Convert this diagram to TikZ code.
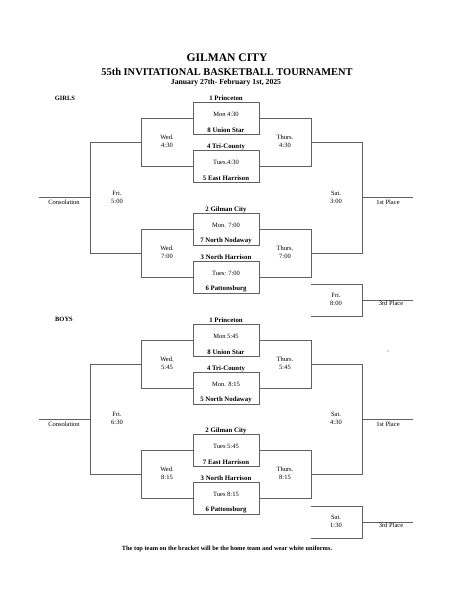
\documentclass[tikz,border=0pt]{standalone}
\usepackage{fontspec}
\setmainfont{Liberation Serif}
\begin{document}
\begin{tikzpicture}[x=1pt,y=-1pt,
  ln/.style={draw=black!62, line width=0.75pt},
  game/.style={ln, rectangle, minimum width=66pt, minimum height=32pt, inner sep=0pt},
  team/.style={font=\fontsize{6.8}{8}\selectfont\bfseries, inner sep=0pt},
  tm/.style={font=\fontsize{6.5}{8}\selectfont, inner sep=0pt},
  day/.style={font=\fontsize{6.5}{8}\selectfont, inner sep=0pt, align=center},
  sect/.style={font=\fontsize{6.5}{8}\selectfont\bfseries, inner sep=0pt}]
\useasboundingbox[fill=white] (0,0) rectangle (463,600);

% titles
\node[font=\fontsize{11.6}{13}\selectfont\bfseries, inner sep=0pt] (t1) at (227,58) {GILMAN CITY};
\node[font=\fontsize{10.4}{12}\selectfont\bfseries, inner sep=0pt] (t2) at (227,72) {55th INVITATIONAL BASKETBALL TOURNAMENT};
\node[font=\fontsize{7.7}{9}\selectfont\bfseries, inner sep=0pt] (t3) at (226,82.5) {January 27th- February 1st, 2025};

% ================= GIRLS =================
\node[sect] (girls) at (65,98) {GIRLS};

\node[game] (g1) at (226,118) {};
\node[tm] (g1t) at (226,114.5) {Mon 4:30};
\node[team] (g1a) at (226,98) {1 Princeton};
\node[team] (g1b) at (226,130) {8 Union Star};

\node[game] (g2) at (226,166) {};
\node[tm] (g2t) at (226,162.5) {Tues.4:30};
\node[team] (g2a) at (226,146.5) {4 Tri-County};
\node[team] (g2b) at (226,178) {5 East Harrison};

\node[game] (g3) at (226,229) {};
\node[tm] (g3t) at (226,225.5) {Mon. 7:00};
\node[team] (g3a) at (226,209.5) {2 Gilman City};
\node[team] (g3b) at (226,241) {7 North Nodaway};

\node[game] (g4) at (226,277) {};
\node[tm] (g4t) at (226,273.5) {Tues: 7:00};
\node[team] (g4a) at (226,257.5) {3 North Harrison};
\node[team] (g4b) at (226,289) {6 Pattonsburg};

\draw[ln] (g1.west) -- ++(-51,0) |- (g2.west);
\draw[ln] (g1.east) -- ++(52,0) |- (g2.east);
\draw[ln] (g3.west) -- ++(-51,0) |- (g4.west);
\draw[ln] (g3.east) -- ++(52,0) |- (g4.east);
\coordinate (gw1) at (142,142);
\coordinate (gw2) at (142,253);
\coordinate (gh1) at (311,142);
\coordinate (gh2) at (311,253);
\draw[ln] (gw1) -- ++(-52,0) |- (gw2);
\draw[ln] (gh1) -- ++(51,0) |- (gh2);

\node[day] (gd1) at (167,141.5) {Wed.\\4:30};
\node[day] (gd2) at (285,141.5) {Thurs.\\4:30};
\node[day] (gd3) at (167,252.5) {Wed.\\7:00};
\node[day] (gd4) at (285,252.5) {Thurs.\\7:00};
\node[day] (gd5) at (117,197.5) {Fri.\\5:00};
\node[day] (gd6) at (336,197.5) {Sat.\\3:00};

\coordinate (gc) at (90,197.5);
\coordinate (gce) at (39,197.5);
\draw[ln] (gc) -- (gce);
\node[tm] (gcl) at (64,202.5) {Consolation};
\coordinate (gf) at (362,197.5);
\coordinate (gfe) at (413,197.5);
\draw[ln] (gf) -- (gfe);
\node[tm] (gfl) at (388,202.5) {1st Place};

\coordinate (gt1) at (311,284);
\coordinate (gt2) at (311,316);
\draw[ln] (gt1) -- ++(51,0) -- ++(0,32) -- (gt2);
\coordinate (gtm) at (362,300);
\coordinate (gte) at (413,300);
\draw[ln] (gtm) -- (gte);
\node[day] (gd7) at (336,299) {Fri.\\8:00};
\node[tm] (gtl) at (391,303) {3rd Place};

% ================= BOYS =================
\node[sect] (boys) at (64,319.5) {BOYS};

\node[game] (b1) at (226,340) {};
\node[tm] (b1t) at (226,336.5) {Mon 5:45};
\node[team] (b1a) at (226,320) {1 Princeton};
\node[team] (b1b) at (226,352) {8 Union Star};

\node[game] (b2) at (226,388) {};
\node[tm] (b2t) at (226,384.5) {Mon. 8:15};
\node[team] (b2a) at (226,368.5) {4 Tri-County};
\node[team] (b2b) at (226,400) {5 North Nodaway};

\node[game] (b3) at (226,450) {};
\node[tm] (b3t) at (226,446.5) {Tues 5:45};
\node[team] (b3a) at (226,430.5) {2 Gilman City};
\node[team] (b3b) at (226,462) {7 East Harrison};

\node[game] (b4) at (226,498) {};
\node[tm] (b4t) at (226,494.5) {Tues 8:15};
\node[team] (b4a) at (226,478.5) {3 North Harrison};
\node[team] (b4b) at (226,510) {6 Pattonsburg};

\draw[ln] (b1.west) -- ++(-51,0) |- (b2.west);
\draw[ln] (b1.east) -- ++(52,0) |- (b2.east);
\draw[ln] (b3.west) -- ++(-51,0) |- (b4.west);
\draw[ln] (b3.east) -- ++(52,0) |- (b4.east);
\coordinate (bw1) at (142,364);
\coordinate (bw2) at (142,474);
\coordinate (bh1) at (311,364);
\coordinate (bh2) at (311,474);
\draw[ln] (bw1) -- ++(-52,0) |- (bw2);
\draw[ln] (bh1) -- ++(51,0) |- (bh2);

\node[day] (bd1) at (167,363.5) {Wed.\\5:45};
\node[day] (bd2) at (285,363.5) {Thurs.\\5:45};
\node[day] (bd3) at (167,473.5) {Wed.\\8:15};
\node[day] (bd4) at (285,473.5) {Thurs.\\8:15};
\node[day] (bd5) at (117,418.5) {Fri.\\6:30};
\node[day] (bd6) at (336,418.5) {Sat.\\4:30};

\coordinate (bc) at (90,419);
\coordinate (bce) at (39,419);
\draw[ln] (bc) -- (bce);
\node[tm] (bcl) at (64,424) {Consolation};
\coordinate (bf) at (362,419);
\coordinate (bfe) at (413,419);
\draw[ln] (bf) -- (bfe);
\node[tm] (bfl) at (388,424) {1st Place};

\coordinate (bt1) at (311,506);
\coordinate (bt2) at (311,538);
\draw[ln] (bt1) -- ++(51,0) -- ++(0,32) -- (bt2);
\coordinate (btm) at (362,522);
\coordinate (bte) at (413,522);
\draw[ln] (btm) -- (bte);
\node[day] (bd7) at (336,521) {Sat.\\1:30};
\node[tm] (btl) at (391,525) {3rd Place};

\node[font=\fontsize{5.5}{6}\selectfont, text=black!45, inner sep=0pt] (mark) at (388,352) {=};

% footer
\node[font=\fontsize{6.4}{8}\selectfont\bfseries, inner sep=0pt] (foot) at (227,548.5) {The top team on the bracket will be the home team and wear white uniforms.};
\end{tikzpicture}
\end{document}
